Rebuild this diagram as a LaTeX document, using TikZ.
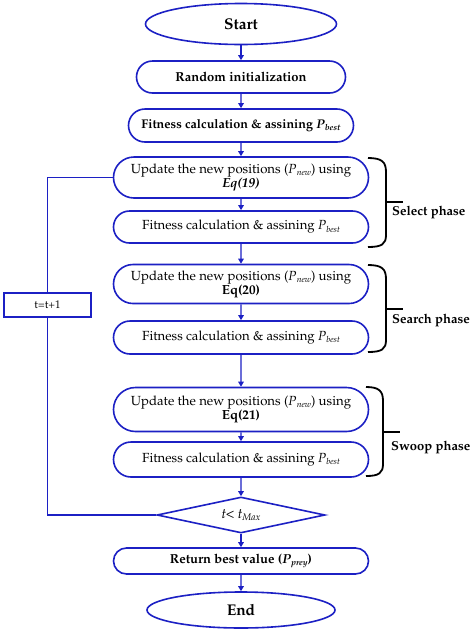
\documentclass[tikz,border=0pt]{standalone}
\usepackage[T1]{fontenc}
\usepackage{mathpazo}
\usetikzlibrary{shapes.geometric,shapes.misc,arrows.meta}
\definecolor{fcblue}{RGB}{28,32,196}
\newcommand{\Psub}[1]{\textit{P}\kern0.3pt\raisebox{-0.35ex}{\fontsize{8.5}{9}\selectfont\textit{#1}}}
\begin{document}
\begin{tikzpicture}[x=1pt,y=-1pt,
  every node/.style={font=\fontsize{13.2}{15.5}\selectfont},
  pill/.style={rounded rectangle, draw=fcblue, line width=1.6pt, inner sep=0pt, fill=white, align=center},
  oval/.style={ellipse, draw=fcblue, line width=1.6pt, inner sep=0pt, fill=white, font=\fontsize{15.5}{17}\selectfont\bfseries},
  flow/.style={draw=fcblue, line width=1.4pt, -{Triangle[length=5pt,width=5.5pt]}},
  back/.style={draw=fcblue, line width=1.1pt},
  bracket/.style={draw=black, line width=1.8pt},
  boldtxt/.style={font=\fontsize{13}{15}\selectfont\bfseries},
  phase/.style={anchor=west, inner sep=0pt, font=\fontsize{13}{15}\selectfont\bfseries}
]
\useasboundingbox[fill=white] (0,0) rectangle (474,633);

\node[oval, minimum width=191pt, minimum height=41pt] (start) at (241,24) {Start};
\node[pill, boldtxt, minimum width=209pt, minimum height=32pt] (init) at (241,77) {Random initialization};
\node[pill, boldtxt, minimum width=225pt, minimum height=33pt, font=\fontsize{12.6}{15}\selectfont\bfseries] (fit0) at (241,125.5) {Fitness calculation \& assining \Psub{best}};

\node[pill, minimum width=255pt, minimum height=41pt] (up1) at (241,177.5) {Update the new positions (\Psub{new}) using\\[-1.5pt] \textbf{\textit{Eq(19)}}};
\node[pill, minimum width=255pt, minimum height=32pt] (fit1) at (241,227) {Fitness calculation \& assining \Psub{best}};

\node[pill, minimum width=255pt, minimum height=39pt] (up2) at (241,284) {Update the new positions (\Psub{new}) using\\[-1.5pt] \textbf{Eq(20)}};
\node[pill, minimum width=255pt, minimum height=33pt] (fit2) at (241,337.5) {Fitness calculation \& assining \Psub{best}};

\node[pill, minimum width=255pt, minimum height=44pt] (up3) at (241,409.5) {Update the new positions (\Psub{new}) using\\[-1.5pt] \textbf{Eq(21)}};
\node[pill, minimum width=255pt, minimum height=35pt] (fit3) at (241,459.5) {Fitness calculation \& assining \Psub{best}};

\node[diamond, draw=fcblue, line width=1.6pt, fill=white, inner sep=0pt, aspect=4.67, minimum width=168pt, minimum height=36pt, font=\fontsize{14}{16}\selectfont] (dec) at (241,515) {\textit{t}\kern-0.5pt< \textit{t}\raisebox{-0.35ex}{\fontsize{9.5}{10}\selectfont\textit{Max}}};

\node[pill, boldtxt, minimum width=255pt, minimum height=26pt] (ret) at (241,561) {Return best value (\Psub{prey})};
\node[oval, minimum width=188pt, minimum height=36pt] (end) at (241,610) {End};

\node[draw=fcblue, line width=1.4pt, fill=white, minimum width=87pt, minimum height=24pt, inner sep=0pt, font=\fontsize{11}{13}\selectfont] (tt) at (47.5,305) {t=t+1};

\draw[flow] (start) -- (init);
\draw[flow] (init) -- (fit0);
\draw[flow] (fit0) -- (up1);
\draw[flow] (up1) -- (fit1);
\draw[flow] (fit1) -- (up2);
\draw[flow] (up2) -- (fit2);
\draw[flow] (fit2) -- (up3);
\draw[flow] (up3) -- (fit3);
\draw[flow] (fit3) -- (dec);
\draw[flow] (dec) -- (ret);
\draw[flow] (ret) -- (end);

\draw[back] (dec.west) -| (tt.south);
\draw[back] (tt.north) |- (up1.west);

% brackets
\draw[bracket] (368,158) .. controls (382,158) and (386,162) .. (386,172) -- (386,235) .. controls (386,244) and (382,247) .. (368,247);
\draw[bracket] (386,202) -- (403,202);
\node[phase] (sel) at (392,212) {Select phase};

\draw[bracket] (368,265) .. controls (382,265) and (386,269) .. (386,279) -- (386,340) .. controls (386,349) and (382,352) .. (368,352);
\draw[bracket] (386,309) -- (403,309);
\node[phase] (sea) at (392,320) {Search phase};

\draw[bracket] (366,387) .. controls (379,387) and (383,391) .. (383,401) -- (383,464) .. controls (383,473) and (379,476) .. (366,476);
\draw[bracket] (383,432) -- (400,432);
\node[phase] (swo) at (391,447) {Swoop phase};
\end{tikzpicture}
\end{document}
